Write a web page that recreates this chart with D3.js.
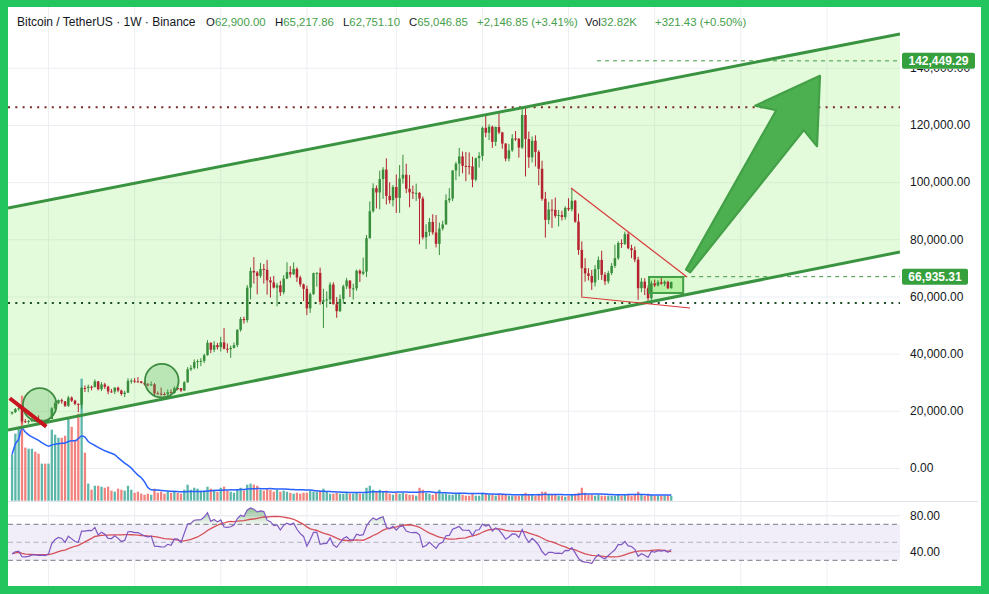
<!DOCTYPE html>
<html><head><meta charset="utf-8">
<script src="https://cdn.jsdelivr.net/npm/d3@7/dist/d3.min.js"></script>
<style>
body{margin:0;background:#fff}
svg{display:block}
text{font-family:"Liberation Sans",Arial,sans-serif}
</style>
</head><body>
<svg id="c" width="989" height="594"></svg>
<script>
// ---------- DATA (weekly BTCUSDT, first bar = week of 2022-10-17) ----------
const firstWeek = "2022-10-17";
const opens = [
19068,19570,20627,20906,16330,16280,16456,17105,17085,16780,
16840,16620,17127,20870,22700,23740,23320,21770,24630,23555,
22430,22140,28000,27990,28450,28330,30300,27590,29230,28440,
26780,26750,28100,27110,25900,26340,30520,30580,30290,30280,
29800,29270,29040,29280,26100,26010,25880,25830,26530,26250,
27970,27920,27110,29990,34530,35040,37060,37370,37450,39460,
43780,41370,42990,42280,43950,41730,41580,42030,43000,48300,
52140,51730,63110,68950,68390,67210,69650,69360,65660,64940,
63120,63900,61480,66270,68510,67760,69650,66640,64250,62680,
55850,60800,68160,68250,58160,58710,58970,64180,57300,54870,
59130,63580,65600,62800,62850,69000,68000,68700,80400,89850,
97900,96400,101100,104400,95200,93700,98300,94500,101300,102600,
97700,96460,96120,96270,94270,80730,82600,86080,82390,78430,
83760,85200,93700,94300,104100,106450,109000,105700,105600,105500,
100900,108400,109200,119000,117300,119400,114100,119300,117400,113500,
108250,111150,115300,115200,112100,123500,115100,108700,114500,110600,
104700,94200,86800,90400,90300,88200,88500,87800,91000,90500,
93500,86200,76300,69900,68100,67200,64900,69600,72800,67600,
65300,68200,70700,73400,78700,78400,81800,76900,76200,72900,
62900,65200,62900,59400,64600,63900,65000,64500,65100,62900];
const highs = [
19695,20990,21480,21053,17190,16810,17425,17424,18387,16960,
16960,17180,21258,23370,23960,24255,23450,25250,25020,23880,
22600,28390,28870,29180,28800,31000,30470,30040,29820,28830,
27660,28260,28450,27400,27000,31430,31280,31500,31800,30440,
29990,29720,30250,29690,26800,28140,26430,27480,27480,28580,
28600,28000,30380,35280,35980,38000,37980,38420,39980,44700,
44000,44400,43800,45880,48970,43580,42840,43880,48590,52820,
52980,64000,70170,73780,68920,71770,71340,72800,66870,67230,
64730,65500,67450,71980,70620,71950,70200,67300,64500,63800,
61420,68370,68480,70080,62700,61800,65000,64960,59800,60670,
64130,66500,65620,64470,69400,69500,73620,81500,93270,99590,
98870,104000,105250,108350,99960,99000,102700,106000,109590,106460,
102500,98830,99480,96500,95000,85300,87450,88770,88500,85850,
86500,95750,97900,104150,107100,111980,110700,110530,110400,108900,
108530,110500,119500,123200,120250,119800,119500,124470,117600,113650,
113400,116800,117900,115400,125700,126200,117700,116000,116400,111200,
107500,96600,93100,94000,94600,90300,90000,91500,94400,97900,
93800,89000,79300,73400,69900,69300,71000,74000,76000,68500,
69000,71700,78100,79300,80000,82700,82600,78100,77500,73900,
66500,66400,63800,65500,65900,65700,66700,65600,65500,65217.86];
const lows = [
18650,19240,20050,15588,15815,15476,16050,16680,16530,16400,
16310,16500,17093,20400,22320,22500,21350,21370,23100,21970,
19550,20750,26600,26500,27200,28170,27130,26940,27670,25810,
26350,25880,26500,25350,24800,26240,29500,29700,29950,29560,
28860,28580,28700,25170,25800,25330,25360,24900,26000,26000,
27160,26540,26970,29840,33930,34520,34800,35630,36720,39300,
40200,40550,41420,40750,41500,40280,38555,41800,42260,47700,
50520,50900,59000,64530,60780,66500,64500,60660,59600,62800,
56550,60190,60750,66060,66630,67500,65080,63380,58400,53500,
54260,60630,63450,57120,49000,56080,57800,57200,52550,54580,
57490,62600,59830,58900,62000,65070,67480,66800,80230,89370,
90800,90500,94150,92200,92500,91500,89250,89250,99500,96150,
91230,94090,93400,78260,80000,76600,81150,81600,77150,74500,
83100,85150,92800,93380,100700,102000,103100,100370,102660,98200,
100300,105100,107500,115700,114700,112000,112650,116800,111700,107300,
107250,110600,114400,108600,111600,102000,105000,106900,105500,98900,
93500,80600,85300,84000,87500,84500,86600,86900,89900,89800,
85800,74600,60000,65200,65600,62300,63500,65800,65800,64000,
64500,67500,70000,72800,77000,78000,76500,73400,72000,58800,
61500,60500,58200,58800,63300,63500,64100,63600,62600,62751.10];
const closes = [
19570,20627,20906,16330,16280,16456,17105,17085,16780,16840,
16620,17127,20870,22700,23740,23320,21770,24630,23555,22430,
22140,28000,27990,28450,28330,30300,27590,29230,28440,26780,
26750,28100,27110,25900,26340,30520,30580,30290,30280,29800,
29270,29040,29280,26100,26010,25880,25830,26530,26250,27970,
27920,27110,29990,34530,35040,37060,37370,37450,39460,43780,
41370,42990,42280,43950,41730,41580,42030,43000,48300,52140,
51730,63110,68950,68390,67210,69650,69360,65660,64940,63120,
63900,61480,66270,68510,67760,69650,66640,64250,62680,55850,
60800,68160,68250,58160,58710,58970,64180,57300,54870,59130,
63580,65600,62800,62850,69000,68000,68700,80400,89850,97900,
96400,101100,104400,95200,93700,98300,94500,101300,102600,97700,
96460,96120,96270,94270,80730,82600,86080,82390,78430,83760,
85200,93700,94300,104100,106450,109000,105700,105600,105500,100900,
108400,109200,119000,117300,119400,114100,119300,117400,113500,108250,
111150,115300,115200,112100,123500,115100,108700,114500,110600,104700,
94200,86800,90400,90300,88200,88500,87800,91000,90500,93500,
86200,76300,69900,68100,67200,64900,69600,72800,67600,65300,
68200,70700,73400,78700,78400,81800,76900,76200,72900,62900,
65200,62900,59400,64600,63900,65000,64500,65100,62900,65046.85];
// volume, thousands of BTC
const volumes = [
302,440,472,689,348,341,341,321,308,243,243,243,466,433,413,413,426,538,485,400,571,800,315,
112,72,98,98,92,85,92,66,59,79,72,66,98,
72,52,59,46,39,46,39,79,52,59,46,59,52,66,52,46,
72,105,72,85,79,66,66,92,79,72,59,
85,92,66,59,52,72,85,66,105,112,105,98,72,66,79,72,59,72,59,66,59,52,46,52,46,52,52,66,59,59,66,79,59,
46,46,52,46,46,52,46,46,52,46,46,85,98,72,59,72,59,66,46,39,52,46,52,46,39,39,33,85,72,52,
46,39,52,72,46,
46,39,39,46,52,39,33,33,46,33,33,52,46,39,39,33,46,39,39,33,33,33,33,39,52,39,39,33,46,59,
59,39,39,39,33,33,26,33,39,46,52,85,52,39,39,33,39,33,33,33,33,33,39,33,39,39,33,39,59,39,33,46,39,33,33,33,33,33,32.82];

const priceTicks = [0,20000,40000,60000,80000,100000,120000,140000];
const rsiTicks = [80,40];
const rsiLevels = [70,50,30];
const rsiSeed = [820,1450]; // avg gain / avg loss carried into the first bar

// drawings: [barIndex, price]
const channelUpper = [[-1.23,90970],[268.05,151850]];
const channelLower = [[-1.23,13300],[268.05,75580]];
const circles = [[8.35,22040],[45.2,30550]];
const crossLine = [[-0.71,24390],[10.34,14450]];
const wedgeTop = [[168.74,97970],[203.76,66830]];
const wedgeBottom = [[171.76,59830],[204.67,55980]];
const rangeBox = [[192.3,66830],[202.6,61230]];
const arrowFromTo = [[204.1,68930],[243.9,137200]];
const athLevel = 126200, supportLevel = 57730;
const targetLevel = 142449.29, targetStart = 176.6;
const lastLevel = 66935.31, lastStart = 202.6;

const legendParts = [
 {x:17, size:12, label:"Bitcoin / TetherUS · 1W · Binance", value:""},
 {x:206, size:11.4, label:"O", value:"62,900.00"},
 {x:275, size:11.4, label:"H", value:"65,217.86"},
 {x:343, size:11.4, label:"L", value:"62,751.10"},
 {x:409, size:11.4, label:"C", value:"65,046.85"},
 {x:477, size:11.4, label:"", value:"+2,146.85 (+3.41%)"},
 {x:585, size:11.4, label:"Vol", value:"32.82K"},
 {x:655, size:11.4, label:"", value:"+321.43 (+0.50%)"}
];

// ---------- SCALES ----------
const N = closes.length;
const x = d3.scaleLinear().domain([0,199]).range([12.06, 12.06+199*3.3125]);
const y = d3.scaleLinear().domain([0,120000]).range([468,125]);
const vy = d3.scaleLinear().domain([0,800]).range([500.7,378.7]);
const ry = d3.scaleLinear().domain([30,70]).range([560.3,524.3]);
const P = p => [x(p[0]), y(p[1])];

const UP="#388e3c", DN="#b4232f";
const svg = d3.select("#c");
const defs = svg.append("defs");
defs.append("clipPath").attr("id","mainClip").append("rect").attr("x",8).attr("y",7).attr("width",892).attr("height",494);
defs.append("clipPath").attr("id","rsiClip").append("rect").attr("x",8).attr("y",501).attr("width",892).attr("height",85);
const gOB = defs.append("linearGradient").attr("id","ob").attr("gradientUnits","userSpaceOnUse").attr("x1",0).attr("x2",0).attr("y1",ry(88)).attr("y2",ry(70));
gOB.append("stop").attr("offset",0).attr("stop-color","rgba(56,142,60,0.55)");
gOB.append("stop").attr("offset",1).attr("stop-color","rgba(56,142,60,0.05)");
const gOS = defs.append("linearGradient").attr("id","os").attr("gradientUnits","userSpaceOnUse").attr("x1",0).attr("x2",0).attr("y1",ry(30)).attr("y2",ry(15));
gOS.append("stop").attr("offset",0).attr("stop-color","rgba(242,54,69,0.05)");
gOS.append("stop").attr("offset",1).attr("stop-color","rgba(242,54,69,0.45)");

// frame
svg.append("rect").attr("width",989).attr("height",594).attr("fill","#22c55e");
svg.append("rect").attr("x",8).attr("y",7).attr("width",973).attr("height",579).attr("fill","#ffffff");

// grid
const t0 = new Date(firstWeek+"T00:00:00Z").getTime();
const dateAt = i => new Date(t0 + i*7*864e5);
const gridIdx = [];
for (let i=-3;i<=270;i++){
  const m = dateAt(i).getUTCMonth(), pm = dateAt(i-1).getUTCMonth();
  if (m!==pm && (m===0||m===6) && x(i)>8 && x(i)<900) gridIdx.push(i);
}
const main = svg.append("g").attr("clip-path","url(#mainClip)");
main.selectAll(".hg").data(priceTicks).join("line")
  .attr("x1",8).attr("x2",900).attr("y1",d=>y(d)+0.5).attr("y2",d=>y(d)+0.5)
  .attr("stroke","#eceef3").attr("stroke-width",1);
main.selectAll(".vg").data(gridIdx).join("line")
  .attr("x1",d=>x(d)).attr("x2",d=>x(d)).attr("y1",7).attr("y2",501)
  .attr("stroke","#eceef3").attr("stroke-width",1);

// channel fill
const lineAt = (seg, xx) => {
  const a=P(seg[0]), b=P(seg[1]); return a[1] + (b[1]-a[1])*(xx-a[0])/(b[0]-a[0]);
};
const xs = [8, 900];
main.append("path")
  .attr("d", `M${xs[0]},${lineAt(channelUpper,xs[0])}L${xs[1]},${lineAt(channelUpper,xs[1])}L${xs[1]},${lineAt(channelLower,xs[1])}L${xs[0]},${lineAt(channelLower,xs[0])}Z`)
  .attr("fill","rgba(144,238,112,0.25)");

// volume
const data = d3.range(N).map(i=>({i,o:opens[i],h:highs[i],l:lows[i],c:closes[i],v:volumes[i]}));
main.selectAll(".vol").data(data).join("rect")
  .attr("x",d=>x(d.i)-1.15).attr("width",2.3)
  .attr("y",d=>vy(d.v)).attr("height",d=>vy(0)-vy(d.v))
  .attr("fill",d=>d.c>=d.o?"#5cb6a9":"#f0837e");
const vma = data.map((d,i)=>d3.mean(volumes.slice(Math.max(0,i-19),i+1)));
main.append("path").attr("d", d3.line().x((d,i)=>x(i)).y(d=>vy(d)).curve(d3.curveMonotoneX)(vma))
  .attr("fill","none").attr("stroke","#2962ff").attr("stroke-width",1.5);

// level lines
main.append("line").attr("x1",8).attr("x2",900).attr("y1",y(athLevel)).attr("y2",y(athLevel))
  .attr("stroke","#7a2a22").attr("stroke-width",2).attr("stroke-dasharray","2,5.3");
main.append("line").attr("x1",8).attr("x2",900).attr("y1",y(supportLevel)).attr("y2",y(supportLevel))
  .attr("stroke","#1b4d22").attr("stroke-width",2).attr("stroke-dasharray","2,5.3");
main.append("line").attr("x1",x(targetStart)).attr("x2",900).attr("y1",y(targetLevel)).attr("y2",y(targetLevel))
  .attr("stroke","#3f9a44").attr("stroke-width",1).attr("stroke-dasharray","4,4");
main.append("line").attr("x1",x(lastStart)).attr("x2",900).attr("y1",y(lastLevel)).attr("y2",y(lastLevel))
  .attr("stroke","#3f9a44").attr("stroke-width",1).attr("stroke-dasharray","4,4");

// range box fill (under candles)
const b0=P(rangeBox[0]), b1=P(rangeBox[1]);
main.append("rect").attr("x",b0[0]).attr("y",b0[1]).attr("width",b1[0]-b0[0]).attr("height",b1[1]-b0[1])
  .attr("fill","rgba(130,230,100,0.45)");

// candles
const cg = main.append("g");
cg.selectAll(".wick").data(data).join("line")
  .attr("x1",d=>x(d.i)).attr("x2",d=>x(d.i)).attr("y1",d=>y(d.h)).attr("y2",d=>y(d.l))
  .attr("stroke",d=>d.c>=d.o?UP:DN).attr("stroke-width",1);
cg.selectAll(".body").data(data).join("rect")
  .attr("x",d=>x(d.i)-1.25).attr("width",2.5)
  .attr("y",d=>y(Math.max(d.o,d.c))).attr("height",d=>Math.max(1,Math.abs(y(d.o)-y(d.c))))
  .attr("fill",d=>d.c>=d.o?UP:DN);

// channel lines
[channelUpper, channelLower].forEach(seg=>{
  main.append("line").attr("x1",8).attr("x2",900).attr("y1",lineAt(seg,8)).attr("y2",lineAt(seg,900))
    .attr("stroke","#3a9340").attr("stroke-width",3);
});

// circles
main.selectAll(".circ").data(circles).join("circle")
  .attr("cx",d=>x(d[0])).attr("cy",d=>y(d[1])).attr("r",16.8)
  .attr("fill","rgba(76,175,80,0.28)").attr("stroke","#3d8b40").attr("stroke-width",1.8);

// red cross stroke
main.append("line").attr("x1",P(crossLine[0])[0]).attr("y1",P(crossLine[0])[1])
  .attr("x2",P(crossLine[1])[0]).attr("y2",P(crossLine[1])[1])
  .attr("stroke","#c8141f").attr("stroke-width",4);

// wedge
[wedgeTop, wedgeBottom].forEach(seg=>{
  main.append("line").attr("x1",P(seg[0])[0]).attr("y1",P(seg[0])[1]).attr("x2",P(seg[1])[0]).attr("y2",P(seg[1])[1])
    .attr("stroke","#d93a3a").attr("stroke-width",1.2);
});

// range box outline
main.append("rect").attr("x",b0[0]).attr("y",b0[1]).attr("width",b1[0]-b0[0]).attr("height",b1[1]-b0[1])
  .attr("fill","none").attr("stroke","#43a047").attr("stroke-width",2);

// arrow
const tl=P(arrowFromTo[0]), tp=P(arrowFromTo[1]);
const dx=tp[0]-tl[0], dy=tp[1]-tl[1], L=Math.hypot(dx,dy), ux=dx/L, uy=dy/L, nx=-uy, ny=ux;
const A=(a,b)=>[tp[0]+a*ux+b*nx, tp[1]+a*uy+b*ny];
const arrowPts=[A(-L,-2.5),A(-53,-17),A(-61,-37),A(0,0),A(-60,37),A(-54,17),A(-L,2.5)];
main.append("path").attr("d","M"+arrowPts.map(p=>p.join(",")).join("L")+"Z")
  .attr("fill","#4caf50").attr("stroke","#43a047").attr("stroke-width",2.2).attr("stroke-linejoin","round");

// price axis
const fmt = d3.format(",.2f");
const labelBoxes = [[targetLevel,73],[lastLevel,66]];
// tick labels hidden behind a price label only show their uncovered part
labelBoxes.forEach(([v],k)=>{
  defs.append("clipPath").attr("id","under"+k).append("rect")
    .attr("x",900).attr("y",y(v)+8).attr("width",81).attr("height",30);
});
svg.selectAll(".pt").data(priceTicks).join("text")
  .attr("x",910).attr("y",d=>y(d)+4.2).attr("font-size",12).attr("fill","#131722")
  .attr("clip-path",d=>{
    const k = labelBoxes.findIndex(([v])=>Math.abs(y(v)-y(d))<14);
    return k>=0 ? `url(#under${k})` : null;
  })
  .text(d=>fmt(d));
labelBoxes.forEach(([v,w])=>{
  const yy=y(v);
  svg.append("rect").attr("x",902).attr("y",yy-8).attr("width",w).attr("height",16).attr("rx",2).attr("fill","#36a03c");
  svg.append("text").attr("x",902+w/2).attr("y",yy+4.3).attr("text-anchor","middle").attr("font-size",12)
    .attr("font-weight","bold").attr("fill","#ffffff").text(fmt(v));
});

// pane separator
svg.append("line").attr("x1",8).attr("x2",978).attr("y1",501.5).attr("y2",501.5).attr("stroke","#e0e3eb");

// ---------- RSI ----------
let ag=rsiSeed[0], al=rsiSeed[1], prev=opens[0];
const rsi = closes.map(c=>{
  const ch=c-prev; prev=c;
  ag=(ag*13+Math.max(ch,0))/14; al=(al*13+Math.max(-ch,0))/14;
  return 100-100/(1+ag/al);
});
const rsiMA = rsi.map((d,i)=>d3.mean(rsi.slice(Math.max(0,i-13),i+1)));
const rg = svg.append("g").attr("clip-path","url(#rsiClip)");
rg.append("rect").attr("x",8).attr("width",892).attr("y",ry(70)).attr("height",ry(30)-ry(70)).attr("fill","#f1eefa");
rg.selectAll(".rhg").data(rsiTicks).join("line").attr("x1",8).attr("x2",900)
  .attr("y1",d=>ry(d)+0.5).attr("y2",d=>ry(d)+0.5).attr("stroke","#e6e4ee");
rg.selectAll(".rvg").data(gridIdx).join("line").attr("x1",d=>x(d)).attr("x2",d=>x(d))
  .attr("y1",501).attr("y2",586).attr("stroke","#eceef3");
rg.selectAll(".lvl").data(rsiLevels).join("line").attr("x1",8).attr("x2",900)
  .attr("y1",d=>ry(d)).attr("y2",d=>ry(d))
  .attr("stroke",d=>d===50?"#b2b5be":"#787b86").attr("stroke-dasharray","5,3.5");
rg.append("path").attr("d", d3.area().x((d,i)=>x(i)).y0(ry(70)).y1(d=>ry(Math.max(d,70)))(rsi)).attr("fill","url(#ob)");
rg.append("path").attr("d", d3.area().x((d,i)=>x(i)).y0(ry(30)).y1(d=>ry(Math.min(d,30)))(rsi)).attr("fill","url(#os)");
rg.append("path").attr("d", d3.line().x((d,i)=>x(i)).y(d=>ry(d))(rsiMA))
  .attr("fill","none").attr("stroke","#d2333a").attr("stroke-width",1.3).attr("opacity",0.85);
rg.append("path").attr("d", d3.line().x((d,i)=>x(i)).y(d=>ry(d))(rsi))
  .attr("fill","none").attr("stroke","#7e57c2").attr("stroke-width",1.2);
svg.selectAll(".rt").data(rsiTicks).join("text")
  .attr("x",910).attr("y",d=>ry(d)+4.2).attr("font-size",12).attr("fill","#131722").text(d=>d3.format(".2f")(d));

// ---------- LEGEND ----------
const lg = svg.append("g");
legendParts.forEach(p=>{
  const t = lg.append("text").attr("x",p.x).attr("y",26).attr("font-size",p.size);
  if (p.label) t.append("tspan").attr("fill","#131722").text(p.label);
  if (p.value) t.append("tspan").attr("fill","#46a04b").text(p.value);
});
</script>
</body></html>
